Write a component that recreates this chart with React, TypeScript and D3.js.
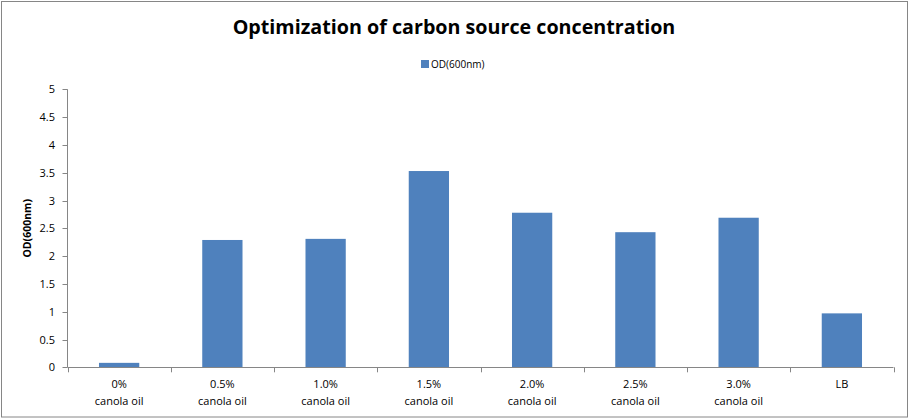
import React from "react";
import * as d3 from "d3";

const categories = ["0%|canola oil", "0.5%|canola oil", "1.0%|canola oil", "1.5%|canola oil", "2.0%|canola oil", "2.5%|canola oil", "3.0%|canola oil", "LB"];
const odValues = [0.08, 2.29, 2.31, 3.53, 2.78, 2.43, 2.69, 0.97];
const yTicks = [0, 0.5, 1, 1.5, 2, 2.5, 3, 3.5, 4, 4.5, 5];
const seriesName = "OD(600nm)";
const title = "Optimization of carbon source concentration";

const W = 910, H = 419;
const left = 67.5, right = 893.5, top = 89.3, bottom = 367.3;
const font = "Open Sans, Lato, sans-serif";

export default function App() {
  const x = d3.scaleBand<number>().domain(d3.range(categories.length)).range([left, right]).paddingInner(0.61).paddingOuter(0.305);
  const xc = d3.scaleBand<number>().domain(d3.range(categories.length)).range([left, right]);
  const y = d3.scaleLinear().domain([0, 5]).range([bottom, top]);
  const color = "#4F81BD";
  return (
    <svg width={W} height={H} style={{ position: "absolute", left: 0, top: 0 }}>
      <rect x={0} y={0} width={W} height={H} fill="#fff" />
      <rect x={1.5} y={1.5} width={906} height={415.5} fill="none" stroke="#868686" strokeWidth={1} />
      <text x={454} y={34} textAnchor="middle" fontFamily={font} fontWeight="bold" fontSize={19.7} fill="#000">{title}</text>
      <rect x={421} y={60} width={8} height={8} fill={color} />
      <text x={431} y={67.5} fontFamily={font} fontSize={10} fill="#000">{seriesName}</text>
      <text transform={`translate(31,${(top + bottom) / 2}) rotate(-90)`} textAnchor="middle" fontFamily={font} fontWeight="bold" fontSize={10.5} fill="#000">OD(600nm)</text>
      {odValues.map((v, i) => (
        <rect key={i} x={x(i)} y={y(v)} width={x.bandwidth()} height={y(0) - y(v)} fill={color} />
      ))}
      <line x1={left} x2={left} y1={top} y2={bottom} stroke="#868686" />
      {yTicks.map((t) => (
        <g key={t}>
          <line x1={left - 5} x2={left} y1={Math.round(y(t)) + 0.5} y2={Math.round(y(t)) + 0.5} stroke="#868686" />
          <text x={55} y={y(t) + 4} textAnchor="end" fontFamily={font} fontSize={11} fill="#000">{t}</text>
        </g>
      ))}
      <line x1={left} x2={right} y1={Math.round(bottom) + 0.5} y2={Math.round(bottom) + 0.5} stroke="#868686" />
      {d3.range(categories.length + 1).map((i) => {
        const xx = Math.round(left + i * xc.step()) + 0.5;
        return <line key={i} x1={xx} x2={xx} y1={bottom} y2={bottom + 5} stroke="#868686" />;
      })}
      {categories.map((c, i) => {
        const cx = (xc(i) as number) + xc.bandwidth() / 2;
        const lines = c.split("|");
        return (
          <text key={i} textAnchor="middle" fontFamily={font} fontSize={11} fill="#000">
            {lines.map((l, j) => (
              <tspan key={j} x={cx} y={388 + j * 16.5}>{l}</tspan>
            ))}
          </text>
        );
      })}
    </svg>
  );
}
